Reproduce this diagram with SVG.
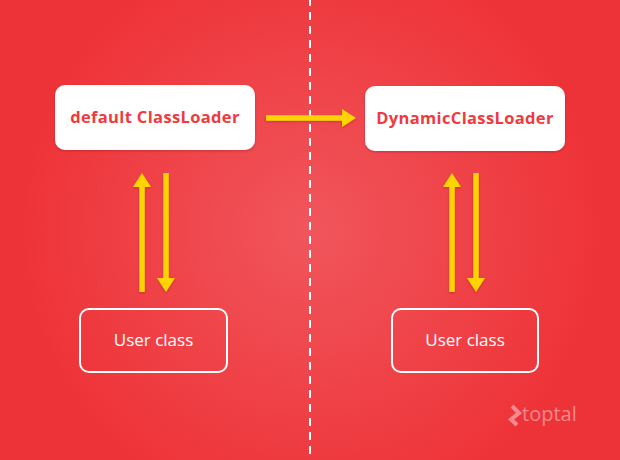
<svg xmlns="http://www.w3.org/2000/svg" width="620" height="460" viewBox="0 0 620 460">
<defs>
<radialGradient id="bg" gradientUnits="userSpaceOnUse" cx="310" cy="230" r="290">
<stop offset="0" stop-color="#f0565c"/>
<stop offset="1" stop-color="#ee3338"/>
</radialGradient>
<filter id="sh" x="-10%" y="-20%" width="120%" height="140%">
<feDropShadow dx="0" dy="1" stdDeviation="0.8" flood-color="#a01820" flood-opacity="0.45"/>
</filter>
<filter id="ash" filterUnits="userSpaceOnUse" x="0" y="0" width="620" height="460">
<feDropShadow dx="0" dy="1" stdDeviation="0.8" flood-color="#a01820" flood-opacity="0.45"/>
</filter>
<marker id="ah" markerUnits="userSpaceOnUse" markerWidth="15" markerHeight="18" refX="2" refY="9" orient="auto" overflow="visible">
<path d="M0 0 L14 9 L0 18 Z" fill="#ffd400"/>
</marker>
</defs>
<style>
.box{fill:#fff;filter:url(#sh)}
.out{fill:none;stroke:#fff;stroke-width:2}
.a{stroke:#ffd400;stroke-width:5.500;fill:none;marker-end:url(#ah)}
.b{font:bold 16.500px "Open Sans","DejaVu Sans",sans-serif;fill:#ef3a40;text-anchor:middle;letter-spacing:.35px}
.u{font:17px "Open Sans","DejaVu Sans",sans-serif;fill:#fff;text-anchor:middle}
</style>
<rect width="620" height="460" fill="url(#bg)"/>
<line x1="310" y1="0" x2="310" y2="460" stroke="#fff" stroke-width="2" stroke-dasharray="8 6" stroke-dashoffset="2"/>
<g id="connectors" filter="url(#ash)">
<line class="a" x1="266" y1="118" x2="344" y2="118"/>
<line class="a" x1="142" y1="292" x2="142" y2="185"/>
<line class="a" x1="166" y1="173" x2="166" y2="280"/>
<line class="a" x1="452" y1="292" x2="452" y2="185"/>
<line class="a" x1="476" y1="173" x2="476" y2="280"/>
</g>
<g id="default-classloader">
<rect class="box" x="55" y="85" width="200" height="65" rx="10"/>
<text class="b" x="155" y="122.500">default ClassLoader</text>
</g>
<g id="dynamic-classloader">
<rect class="box" x="365" y="86" width="200" height="65" rx="10"/>
<text class="b" x="465" y="123.500">DynamicClassLoader</text>
</g>
<g id="user-class-1">
<rect class="out" x="80" y="309" width="147" height="63" rx="9"/>
<text class="u" x="153.500" y="346">User class</text>
</g>
<g id="user-class-2">
<rect class="out" x="392" y="309" width="146" height="63" rx="9"/>
<text class="u" x="465" y="346">User class</text>
</g>
<g id="toptal">
<path d="M512 406 L519 413 L511 419.500 L517 425" fill="none" stroke="#f7898e" stroke-width="4"/>
<text x="522" y="421" fill="#f7898e" font-family="'Open Sans','DejaVu Sans',sans-serif" font-size="20">toptal</text>
</g>
</svg>
